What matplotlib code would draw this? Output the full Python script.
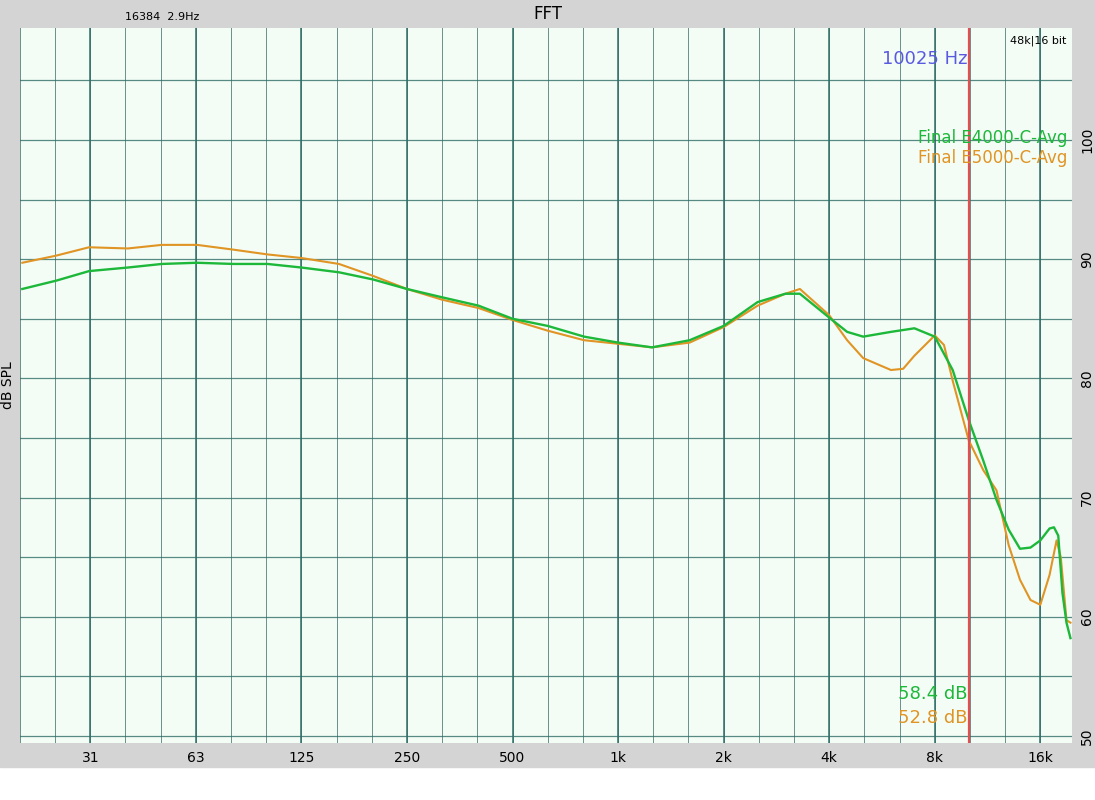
import numpy as np
import matplotlib.pyplot as plt

# frequency response readings (Hz, dB SPL)
freq_e4000 = [20, 25, 31, 40, 50, 63, 80, 100, 125, 160, 200, 250, 315, 400, 500, 630, 800, 1000,
              1250, 1600, 2000, 2500, 3000, 3300, 4000, 4500, 5000, 6000, 7000, 8000, 9000, 10000,
              11000, 12000, 13000, 14000, 15000, 16000, 17000, 17500, 18000, 18500, 19000, 19500]
spl_e4000 = [87.5, 88.2, 89.0, 89.3, 89.6, 89.7, 89.6, 89.6, 89.3, 88.9, 88.3, 87.5, 86.8, 86.1, 85.0,
             84.4, 83.5, 83.0, 82.6, 83.2, 84.4, 86.4, 87.1, 87.1, 85.1, 83.9, 83.5, 83.9, 84.2, 83.5,
             80.7, 76.5, 73.1, 69.8, 67.3, 65.7, 65.8, 66.4, 67.4, 67.5, 66.8, 62.0, 59.5, 58.2]
freq_e5000 = [20, 25, 31, 40, 50, 63, 80, 100, 125, 160, 200, 250, 315, 400, 500, 630, 800, 1000,
              1250, 1600, 2000, 2500, 3000, 3300, 4000, 4500, 5000, 6000, 6500, 7000, 8000, 8500,
              9000, 10000, 11000, 12000, 13000, 14000, 15000, 16000, 17000, 17800, 18300, 19000, 19500]
spl_e5000 = [89.7, 90.3, 91.0, 90.9, 91.2, 91.2, 90.8, 90.4, 90.1, 89.6, 88.6, 87.5, 86.6, 85.9, 84.9,
             84.0, 83.2, 82.9, 82.6, 83.0, 84.3, 86.1, 87.1, 87.5, 85.3, 83.2, 81.7, 80.7, 80.8, 81.9,
             83.6, 82.8, 79.8, 74.8, 72.3, 70.6, 66.0, 63.1, 61.4, 61.0, 63.5, 66.4, 65.0, 59.7, 59.5]

xticks = [31.25, 62.5, 125, 250, 500, 1000, 2000, 4000, 8000, 16000]
xlabels = ['31', '63', '125', '250', '500', '1k', '2k', '4k', '8k', '16k']
cursor_hz = 10025

green = '#1db83a'
orange = '#e09424'
grid_c = '#2f6e66'

fig = plt.figure(figsize=(10.95, 8.0), dpi=100)
fig.patch.set_facecolor('white')
fig.add_artist(plt.Rectangle((0, 1 - 767 / 800), 1, 767 / 800, transform=fig.transFigure,
                             color='#d4d4d4', zorder=0))
ax = fig.add_axes([20 / 1095, 1 - 743 / 800, 1052 / 1095, 715 / 800])
ax.set_facecolor('#f3fdf6')
ax.set_xscale('log')
ax.set_xlim(19.7, 19700)
ax.set_ylim(49.4, 109.4)

minor = [1000 * 2 ** (k / 3) for k in range(-17, 14)]
for f in minor:
    ax.axvline(f, color='#3d6a66', lw=0.7, alpha=0.75, zorder=1)
for f in xticks:
    ax.axvline(f, color=grid_c, lw=1.1, zorder=1)
for v in np.arange(50, 110, 5):
    ax.axhline(v, color=grid_c, lw=0.9, alpha=0.8, zorder=1)

ax.plot(freq_e5000, spl_e5000, color=orange, lw=1.5, zorder=3)
ax.plot(freq_e4000, spl_e4000, color=green, lw=1.7, zorder=4)
ax.axvline(cursor_hz, color='#e05050', lw=1.6, zorder=5)

ax.set_xticks(xticks)
ax.set_xticklabels(xlabels)
ax.xaxis.set_minor_locator(plt.NullLocator())
ax.set_yticks(range(50, 101, 10))
ax.yaxis.tick_right()
ax.set_yticklabels([str(v) for v in range(50, 101, 10)], rotation=90, va='center')
ax.tick_params(length=0, labelsize=10, pad=6)
for s in ax.spines.values():
    s.set_visible(False)

fig.text(0.5, 1 - 14 / 800, 'FFT', ha='center', va='center', fontsize=12)
fig.text(125 / 1095, 1 - 17 / 800, '16384  2.9Hz', ha='left', va='center', fontsize=8)
fig.text(8 / 1095, 1 - 385 / 800, 'dB SPL', rotation=90, ha='center', va='center', fontsize=10)

ax.text(0.995, 0.99, '48k|16 bit', transform=ax.transAxes, ha='right', va='top', fontsize=8)
ax.text(cursor_hz * 0.99, 106.8, '10025 Hz', ha='right', va='center', fontsize=13, color='#5a5ae0')
ax.text(0.996, 100.2, 'Final E4000-C-Avg', transform=ax.get_yaxis_transform(), ha='right',
        va='center', fontsize=12, color=green, zorder=6)
ax.text(0.996, 98.5, 'Final E5000-C-Avg', transform=ax.get_yaxis_transform(), ha='right',
        va='center', fontsize=12, color=orange, zorder=6)
ax.text(cursor_hz * 0.99, 53.5, '58.4 dB', ha='right', va='center', fontsize=13, color=green)
ax.text(cursor_hz * 0.99, 51.5, '52.8 dB', ha='right', va='center', fontsize=13, color=orange)

fig.savefig('out.png', dpi=100)
